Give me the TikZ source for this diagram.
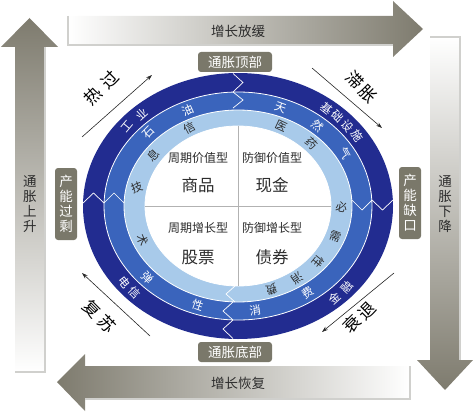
\documentclass[tikz,border=0pt]{standalone}
\usepackage{fontspec}
\setmainfont{Noto Sans CJK SC}
\usetikzlibrary{arrows.meta,positioning,shapes.geometric}
\definecolor{ringdark}{RGB}{34,44,144}
\definecolor{ringmid}{RGB}{58,100,188}
\definecolor{ringlight}{RGB}{168,202,234}
\definecolor{tagbg}{RGB}{122,120,106}
\definecolor{bigarrow}{RGB}{126,123,110}
\definecolor{edgegray}{RGB}{208,208,205}
\definecolor{inktext}{RGB}{45,45,45}

\begin{document}
\begin{tikzpicture}[x=1pt,y=-1pt,
        ring/.style={ellipse, draw=white, line width=0.8pt, inner sep=0pt},
        ringchar/.style={text=white, inner sep=0pt, font=\fontsize{11.5}{12}\selectfont},
        quad/.style={text=inktext, inner sep=1pt, font=\fontsize{12}{13}\selectfont},
        asset/.style={text=inktext, inner sep=1pt, font=\fontsize{16.5}{17}\selectfont},
        tag/.style={fill=tagbg, text=white, rounded corners=3pt, inner sep=2pt,
            minimum width=74pt, minimum height=20pt, font=\fontsize{13.5}{15}\selectfont},
        vtag/.style={tag, align=center, minimum width=22pt, minimum height=72pt},
        phase/.style={text=black, inner sep=0pt, font=\fontsize{17}{17}\selectfont},
        cyclearrow/.style={-{Stealth[length=6pt,width=4pt]}, line width=0.6pt, black!85},
        chev/.style={white, line width=0.7pt},
        shaft/.style={edgegray, line width=1.2pt},
        crossline/.style={black!30, line width=0.6pt},
        biglabel/.style={text=inktext, align=center, font=\fontsize{13.5}{15}\selectfont}]
    \useasboundingbox (0,0) rectangle (474,412);

    % big arrows round the picture
    \shade[left color=white, middle color=bigarrow!35, right color=bigarrow]
        (68,16) -- (393,16) -- (393,1) -- (423,29) -- (393,57) -- (393,45) -- (68,45) -- cycle;
    \draw[shaft] (68,16) -- (68,45) -- (393,45);
    \shade[top color=white, middle color=bigarrow!35, bottom color=bigarrow]
        (430,37) -- (460,37) -- (460,360) -- (473,360) -- (445,390) -- (417,360) -- (430,360) -- cycle;
    \draw[shaft] (430,37) -- (460,37) -- (460,360);
    \shade[left color=bigarrow, middle color=bigarrow!35, right color=white]
        (410,366) -- (85,366) -- (85,354) -- (57,382) -- (85,411) -- (85,399) -- (410,399) -- cycle;
    \draw[shaft] (410,366) -- (410,399) -- (85,399);
    \shade[top color=bigarrow, middle color=bigarrow!35, bottom color=white]
        (15,372) -- (15,47) -- (1,47) -- (29.5,18) -- (58,47) -- (45,47) -- (45,372) -- cycle;
    \draw[shaft] (15,372) -- (45,372) -- (45,47);

    \node[biglabel] (slow) at (238,31) {增长放缓};
    \node[biglabel] (back) at (238,383) {增长恢复};
    \node[biglabel] (up) at (30,204) {通\\胀\\上\\升};
    \node[biglabel] (down) at (445,204) {通\\胀\\下\\降};

    % rings
    \node[ring, draw=none, fill=ringdark, minimum width=310pt, minimum height=266pt] (outer) at (238,206) {};
    \node[ring, fill=ringmid, minimum width=268pt, minimum height=228pt] (middle) at (238,206) {};
    \node[ring, fill=ringlight, minimum width=228pt, minimum height=192pt] (inner) at (238,206) {};
    \node[ring, fill=white, minimum width=186pt, minimum height=160pt] (core) at (238,206) {};
    \draw[crossline] (core.north) -- (core.south);
    \draw[crossline] (core.west) -- (core.east);

    % chevrons
    \draw[chev] (233,73.5) -- (243,82.5) -- (233,92);
    \draw[chev] (233,92) -- (243,100) -- (233,108);
    \draw[chev] (83,203) -- (93.5,193) -- (104,203) -- (114,193) -- (124,203);
    \draw[chev] (393,200) -- (382.5,210) -- (372,200) -- (362,210) -- (352,200);
    \draw[chev] (233,338.5) -- (223,329) -- (233,320);
    \draw[chev] (233,320) -- (223,311) -- (233,302);
    \draw[chev] (235,302) -- (226,294) -- (235,286);

    % ring texts
    \foreach \t/\r/\c [count=\i] in {140/50/工, 132/42/业, 52/-38/基, 46.5/-43.5/础,
            40.5/-49.5/设, 34.5/-55.5/施, -48/42/金, -41/49/融, 218/-52/电, 224.5/-45.5/信}
        \node[ringchar, rotate=\r] (dk\i) at ({238+144.5*cos(\t)},{206-123.5*sin(\t)}) {\c};
    \foreach \t/\r/\c [count=\i] in {136/46/石, 114/24/油, 70/-20/天, 50/-40/然, 30/-60/气,
            223/-47/弹, 251/-19/性, 278/8/消, 304/34/费}
        \node[ringchar, rotate=\r] (md\i) at ({238+124*cos(\t)},{206-105*sin(\t)}) {\c};
    \foreach \t/\r/\c [count=\i] in {118/28/信, 145/45/息, 168/20/技, 203/-67/术, 65/-25/医,
            45/-45/药, -1/-10/必, -20/-20/需, -39/-129/性, -55/-145/消, -71/-161/费}
        \node[ringchar, text=inktext, rotate=\r] (lt\i) at ({238+103.5*cos(\t)},{206-88*sin(\t)}) {\c};

    % quadrants
    \node[quad] (cv) at (198,158) {周期价值型};
    \node[asset, below=12pt of cv] (goods) {商品};
    \node[quad] (dv) at (272,158) {防御价值型};
    \node[asset, below=12pt of dv] (cash) {现金};
    \node[quad] (cg) at (198,228) {周期增长型};
    \node[asset, below=14pt of cg] (stock) {股票};
    \node[quad] (dg) at (272,228) {防御增长型};
    \node[asset, below=14pt of dg] (bond) {债券};

    % tags
    \node[tag] (peak) at (235,62) {通胀顶部};
    \node[tag] (trough) at (235,352) {通胀底部};
    \node[vtag] (surplus) at (66,204) {产\\能\\过\\剩};
    \node[vtag] (gap) at (410,203) {产\\能\\缺\\口};

    % cycle arrows
    \coordinate (ht0) at (82,137);   \coordinate (ht1) at (152,75);
    \coordinate (st0) at (312,68);   \coordinate (st1) at (382,128);
    \coordinate (rc0) at (394,273);  \coordinate (rc1) at (322,332);
    \coordinate (rv0) at (150,336);  \coordinate (rv1) at (82,273);
    \draw[cyclearrow] (ht0) -- (ht1);
    \draw[cyclearrow] (st0) -- (st1);
    \draw[cyclearrow] (rc0) -- (rc1);
    \draw[cyclearrow] (rv0) -- (rv1);
    \node[phase, rotate=45] (ht-a) at (110,80) {过};
    \node[phase, rotate=45] (ht-b) at (93,96) {热};
    \node[phase, rotate=-45] (st-a) at (355,80) {滞};
    \node[phase, rotate=-45] (st-b) at (368,94) {胀};
    \node[phase, rotate=45] (rc-a) at (352,324) {衰};
    \node[phase, rotate=45] (rc-b) at (367,311) {退};
    \node[phase, rotate=-45] (rv-a) at (92,309) {复};
    \node[phase, rotate=-45] (rv-b) at (107,324) {苏};
\end{tikzpicture}
\end{document}
